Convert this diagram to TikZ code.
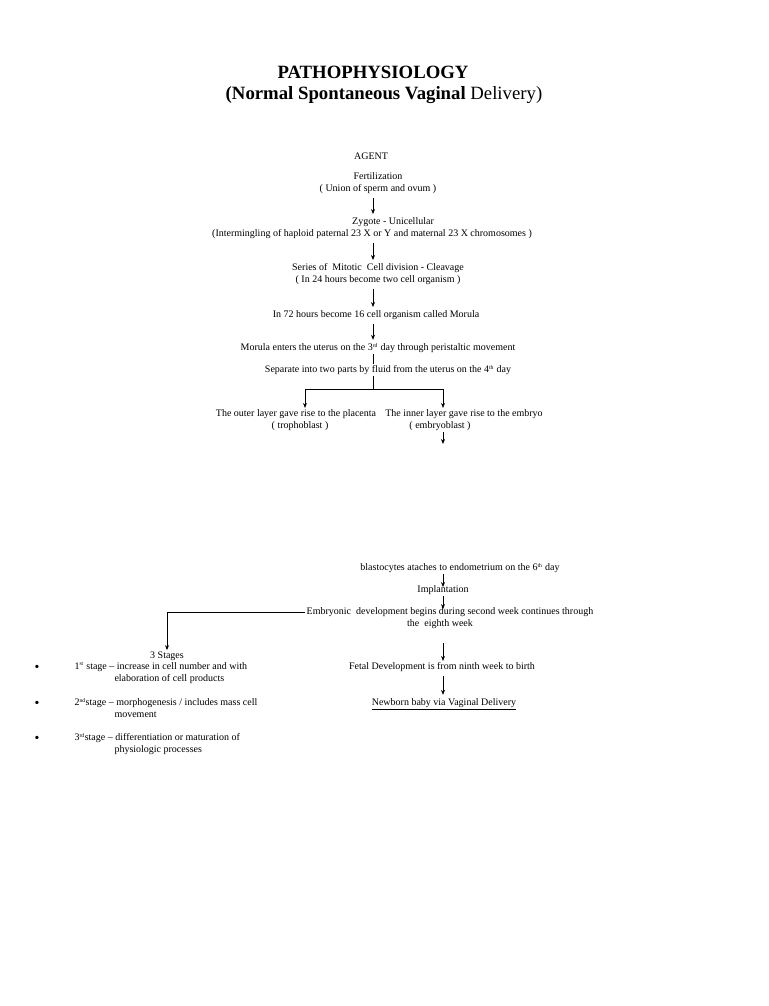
\documentclass[tikz,border=0pt]{standalone}
\usepackage{fontspec}
\setmainfont{Liberation Serif}
\usetikzlibrary{arrows.meta}
\newcommand{\sps}[1]{\textsuperscript{\fontsize{4.5}{5}\selectfont #1}} % маленький верхний индекс
\begin{document}
\begin{tikzpicture}[x=0.8pt,y=-0.8pt] % координаты в пикселях, ось y вниз
\tikzstyle{txt} = [inner sep=1pt, font=\fontsize{8}{9.6}\selectfont] % обычный текст
\tikzstyle{blk} = [txt, align=center] % блок из двух строк
\tikzstyle{ttl} = [inner sep=0pt, font=\fontsize{15}{18.4}\selectfont] % заголовок
\tikzstyle{arr} = [line width=0.6pt, -{Stealth[length=4pt,width=3.2pt]}] % стрелка
\tikzstyle{sarr} = [arr, shorten <=2pt, shorten >=1.5pt] % короткая стрелка
\tikzstyle{ln} = [line width=0.6pt] % линия без стрелки
\useasboundingbox (0,0) rectangle (768,1006);
\node[ttl] (title) at (373,72) {\textbf{PATHOPHYSIOLOGY}};
\node[ttl] (subtitle) at (384,95) {\textbf{(Normal Spontaneous Vaginal} Delivery)};
\node[txt] (agent) at (371,156) {AGENT};
\node[blk] (fert) at (378,183) {Fertilization\\( Union of sperm and ovum )};
\node[txt] (zyg) at (393,222) {Zygote - Unicellular};
\node[txt] (zygb) at (372,234) {(Intermingling of haploid paternal 23 X or Y and maternal 23 X chromosomes )};
\node[blk] (cleav) at (378,274) {Series of \ Mitotic \ Cell division - Cleavage\\( In 24 hours become two cell organism )};
\node[txt] (morula) at (376,315) {In 72 hours become 16 cell organism called Morula};
\node[txt] (uterus) at (378,348) {Morula enters the uterus on the 3\sps{rd} day through peristaltic movement};
\node[txt] (sep) at (388,370) {Separate into two parts by fluid from the uterus on the 4\sps{th} day};
\node[txt] (outer) at (296,414) {The outer layer gave rise to the placenta};
\node[txt] (outerb) at (300,426) {( trophoblast )};
\node[txt] (inner) at (464,414) {The inner layer gave rise to the embryo};
\node[txt] (innerb) at (440,426) {( embryoblast )};
\node[txt] (blast) at (460,568) {blastocytes ataches to endometrium on the 6\sps{th} day};
\node[txt] (impl) at (443,590) {Implantation};
\node[txt] (embr) at (450,612) {Embryonic \ development begins during second week continues through};
\node[txt] (embrb) at (440,624) {the \ eighth week};
\node[txt] (fetal) at (442,667) {Fetal Development is from ninth week to birth};
\node[txt] (newborn) at (444,704) {\underline{Newborn baby via Vaginal Delivery}};
\node[txt] (stages) at (167,656) {3 Stages};
\foreach \y/\n in {668/1, 704/2, 739/3} % маркеры списка
    \node[txt] (dot\n) at (37,\y) {\fontsize{11}{11}\selectfont\textbullet};
\node[txt, anchor=west] (st1) at (73,667) {1\sps{st} stage -- increase in cell number and with};
\node[txt, anchor=west] (st1b) at (113,679) {elaboration of cell products};
\node[txt, anchor=west] (st2) at (73,703) {2\sps{nd}stage -- morphogenesis / includes mass cell};
\node[txt, anchor=west] (st2b) at (113,715) {movement};
\node[txt, anchor=west] (st3) at (73,738) {3\sps{rd}stage -- differentiation or maturation of};
\node[txt, anchor=west] (st3b) at (113,750) {physiologic processes};
\coordinate (spl) at (373,389); % развилка
\coordinate (jl) at (305,389);
\coordinate (jr) at (443,389);
\coordinate (e1) at (443,444);
\coordinate (f0) at (443,643);
\draw[sarr] (fert.south -| spl) -- (zyg.north -| spl);
\draw[sarr] (zygb.south -| spl) -- (cleav.north -| spl);
\draw[sarr] (cleav.south -| spl) -- (morula.north -| spl);
\draw[sarr] (morula.south -| spl) -- (uterus.north -| spl);
\draw[ln] (uterus.south -| spl) -- (sep.north -| spl);
\draw[ln] (sep.south -| spl) -- (spl);
\draw[ln] (jl) -- (jr);
\draw[arr] (jl) -- (jl |- outer.north);
\draw[arr] (jr) -- (jr |- inner.north);
\draw[arr] (innerb.south -| jr) -- (e1);
\draw[arr] (blast.south -| impl) -- ([yshift=-2.5pt]impl.north);
\draw[arr] (impl.south) -- ([yshift=-2.5pt]impl |- embr.north);
\draw[arr] (embr.west) -| (stages.north);
\draw[arr] (f0) -- (fetal.north -| f0);
\draw[sarr] (fetal.south -| f0) -- (newborn.north -| f0);
\end{tikzpicture}
\end{document}
